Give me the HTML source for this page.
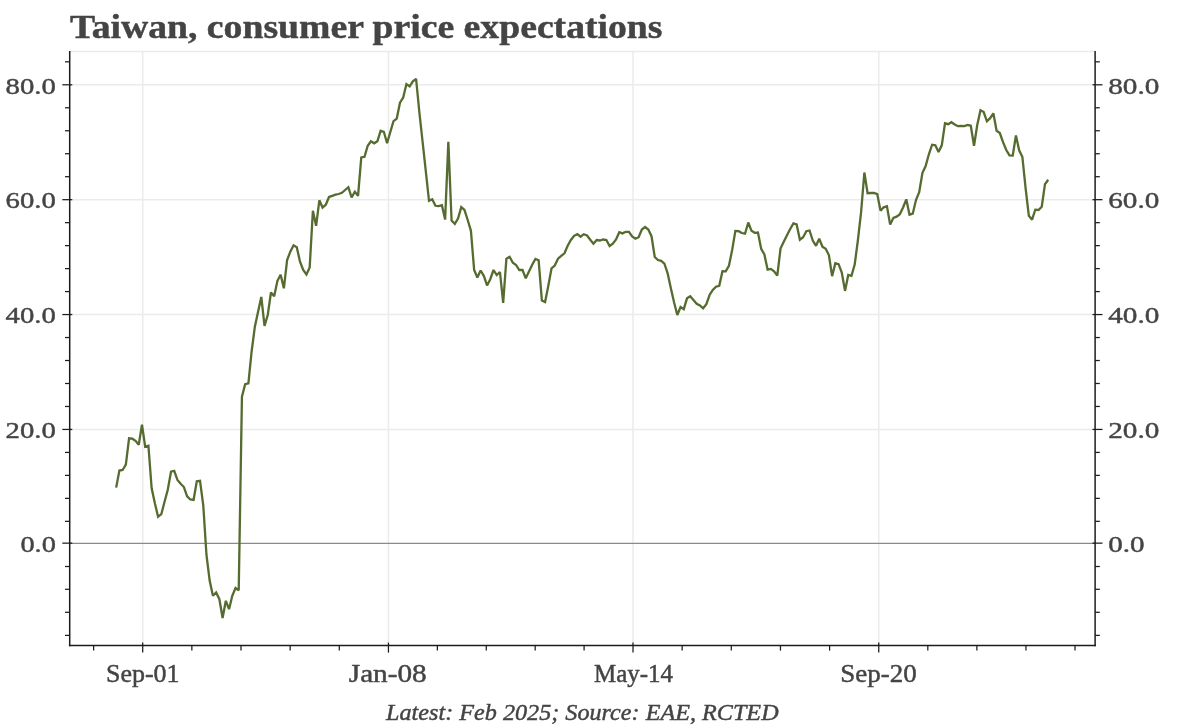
<!DOCTYPE html>
<html lang="en"><head><meta charset="utf-8"><title>Taiwan, consumer price expectations</title>
<style>
html,body{margin:0;padding:0;background:#fff;}
body{width:1200px;height:728px;overflow:hidden;}
svg{display:block;}
text{font-family:"Liberation Serif",serif;fill:#444;stroke:#444;stroke-width:0.45px;stroke-linejoin:round;}
.t{font-weight:bold;font-size:34px;}
.yl{font-size:24px;}
.xl{font-size:25px;}
.ft{font-size:23.5px;font-style:italic;}
</style></head><body>
<svg width="1200" height="728" viewBox="0 0 1200 728">
<rect width="1200" height="728" fill="#fff"/>

<g stroke="#ebebeb" stroke-width="1.5" fill="none">
<line x1="69.7" y1="84.8" x2="1095.1" y2="84.8"/>
<line x1="69.7" y1="199.68" x2="1095.1" y2="199.68"/>
<line x1="69.7" y1="314.56" x2="1095.1" y2="314.56"/>
<line x1="69.7" y1="429.44" x2="1095.1" y2="429.44"/>
<line x1="142.7" y1="51.4" x2="142.7" y2="645.4"/>
<line x1="388.45" y1="51.4" x2="388.45" y2="645.4"/>
<line x1="633.0" y1="51.4" x2="633.0" y2="645.4"/>
<line x1="878.75" y1="51.4" x2="878.75" y2="645.4"/>
<line x1="69.7" y1="51.4" x2="1095.1" y2="51.4"/>
</g>
<line x1="69.7" y1="543.3" x2="1095.1" y2="543.3" stroke="#8a8a8a" stroke-width="1.2"/>
<polyline points="116.17,487.60 119.39,470.50 122.62,470.00 125.84,464.70 129.07,438.30 132.30,438.70 135.52,440.80 138.75,444.70 141.97,424.60 145.19,446.70 148.42,445.70 151.65,488.30 154.87,503.30 158.09,516.80 161.32,514.20 164.55,501.70 167.77,489.70 171.00,471.70 174.22,470.90 177.44,480.00 180.67,483.70 183.90,487.00 187.12,496.30 190.34,499.50 193.57,500.00 196.80,481.20 200.02,480.80 203.25,505.00 206.47,555.00 209.69,580.80 212.92,595.80 216.15,592.50 219.37,599.20 222.59,618.00 225.82,600.80 229.05,609.20 232.27,595.80 235.50,588.00 238.72,590.30 241.94,396.70 245.17,384.20 248.39,383.30 251.62,351.50 254.85,326.70 258.07,311.70 261.30,297.00 264.52,325.80 267.75,315.00 270.97,292.50 274.19,296.30 277.42,280.80 280.64,274.70 283.87,288.30 287.10,260.00 290.32,251.70 293.55,245.30 296.77,247.20 300.00,261.70 303.22,270.00 306.44,274.50 309.67,267.50 312.89,210.80 316.12,225.80 319.35,200.30 322.57,207.50 325.80,204.70 329.02,197.00 332.25,195.80 335.47,194.70 338.69,194.00 341.92,192.80 345.14,190.00 348.37,187.20 351.60,197.50 354.82,191.70 358.05,195.80 361.27,157.50 364.50,156.80 367.72,145.80 370.94,141.30 374.17,143.30 377.40,141.30 380.62,130.80 383.85,131.80 387.07,143.20 390.30,132.00 393.52,121.20 396.75,118.60 399.97,102.70 403.20,97.50 406.42,84.10 409.65,86.40 412.87,81.30 416.10,78.80 419.32,112.00 422.55,141.40 425.77,170.80 429.00,200.80 432.22,199.20 435.45,205.80 438.67,206.20 441.90,205.30 445.12,219.60 448.35,141.90 451.57,220.60 454.80,223.80 458.02,218.50 461.25,207.10 464.47,210.00 467.70,220.00 470.92,230.80 474.15,270.00 477.37,277.50 480.60,270.50 483.82,275.80 487.05,285.50 490.27,279.20 493.50,270.00 496.72,275.00 499.95,272.00 503.17,302.80 506.40,258.70 509.62,256.80 512.85,262.80 516.07,265.00 519.29,270.00 522.52,270.00 525.75,278.30 528.97,271.50 532.20,264.80 535.42,258.90 538.64,260.30 541.87,300.50 545.10,302.00 548.32,285.80 551.54,268.30 554.77,265.50 558.00,258.70 561.22,255.80 564.45,253.30 567.67,245.80 570.89,240.00 574.12,235.80 577.35,234.20 580.57,236.70 583.79,234.20 587.02,235.50 590.25,239.70 593.47,243.80 596.70,240.00 599.92,240.50 603.14,239.50 606.37,240.00 609.60,246.00 612.82,243.70 616.04,239.50 619.27,232.20 622.50,233.40 625.72,231.80 628.94,231.90 632.17,236.40 635.39,238.70 638.62,237.20 641.85,229.50 645.07,227.00 648.29,229.50 651.52,236.20 654.75,257.00 657.97,260.00 661.19,260.80 664.42,263.70 667.64,273.30 670.87,288.30 674.10,302.50 677.32,315.00 680.54,307.00 683.77,309.20 687.00,298.30 690.22,296.30 693.44,300.00 696.67,303.80 699.89,305.50 703.12,308.30 706.35,304.20 709.57,295.00 712.79,290.00 716.02,286.70 719.25,285.80 722.47,271.20 725.69,271.30 728.92,265.80 732.14,250.00 735.37,230.90 738.60,231.20 741.82,233.00 745.04,233.70 748.27,222.50 751.50,230.80 754.72,232.80 757.94,232.50 761.17,248.80 764.39,254.50 767.62,269.70 770.85,268.90 774.07,271.30 777.29,275.60 780.52,248.60 783.75,241.70 786.97,235.20 790.19,229.00 793.42,223.40 796.64,224.50 799.87,239.80 803.10,237.20 806.32,231.20 809.54,230.50 812.77,240.50 816.00,245.80 819.22,238.70 822.44,246.70 825.67,248.80 828.89,255.00 832.12,276.20 835.35,263.30 838.57,264.20 841.79,272.50 845.02,290.90 848.25,275.00 851.47,275.80 854.69,264.60 857.92,240.00 861.14,211.70 864.37,172.50 867.60,193.20 870.82,193.00 874.04,193.00 877.27,194.20 880.50,210.60 883.72,207.30 886.94,206.20 890.17,224.60 893.39,217.80 896.62,216.60 899.85,214.30 903.07,207.50 906.29,199.30 909.52,214.70 912.75,213.70 915.97,200.00 919.19,192.30 922.42,173.00 925.64,166.00 928.87,154.30 932.10,144.70 935.32,145.30 938.54,152.00 941.77,145.30 945.00,123.30 948.22,124.20 951.44,122.20 954.67,124.50 957.89,126.20 961.12,126.00 964.35,126.20 967.57,125.00 970.79,125.80 974.02,145.70 977.25,125.00 980.47,110.30 983.69,112.00 986.92,121.30 990.14,118.20 993.37,113.30 996.60,130.80 999.82,133.00 1003.04,142.20 1006.27,150.00 1009.50,155.30 1012.72,155.60 1015.94,135.50 1019.17,150.30 1022.39,157.00 1025.62,188.30 1028.85,215.80 1032.07,219.70 1035.30,209.70 1038.52,210.00 1041.75,206.70 1044.97,184.20 1048.19,179.80" fill="none" stroke="#556B2F" stroke-width="2.3" stroke-linejoin="miter" stroke-miterlimit="2" stroke-linecap="butt"/>
<g stroke="#1c1c1c" stroke-width="1.5" fill="none">
<line x1="69.7" y1="50.9" x2="69.7" y2="646.15"/>
<line x1="1095.1" y1="50.9" x2="1095.1" y2="646.15"/>
<line x1="68.95" y1="645.4" x2="1095.85" y2="645.4"/>
</g>
<g stroke="#1c1c1c" stroke-width="1.25" fill="none">
<line x1="62.300000000000004" y1="84.8" x2="72.3" y2="84.8"/>
<line x1="1092.5" y1="84.8" x2="1102.5" y2="84.8"/>
<line x1="62.300000000000004" y1="199.68" x2="72.3" y2="199.68"/>
<line x1="1092.5" y1="199.68" x2="1102.5" y2="199.68"/>
<line x1="62.300000000000004" y1="314.56" x2="72.3" y2="314.56"/>
<line x1="1092.5" y1="314.56" x2="1102.5" y2="314.56"/>
<line x1="62.300000000000004" y1="429.44" x2="72.3" y2="429.44"/>
<line x1="1092.5" y1="429.44" x2="1102.5" y2="429.44"/>
<line x1="62.300000000000004" y1="543.15" x2="72.3" y2="543.15"/>
<line x1="1092.5" y1="543.15" x2="1102.5" y2="543.15"/>
<line x1="65.0" y1="61.824" x2="69.7" y2="61.824"/>
<line x1="1095.1" y1="61.824" x2="1099.8" y2="61.824"/>
<line x1="65.0" y1="107.776" x2="69.7" y2="107.776"/>
<line x1="1095.1" y1="107.776" x2="1099.8" y2="107.776"/>
<line x1="65.0" y1="130.752" x2="69.7" y2="130.752"/>
<line x1="1095.1" y1="130.752" x2="1099.8" y2="130.752"/>
<line x1="65.0" y1="153.728" x2="69.7" y2="153.728"/>
<line x1="1095.1" y1="153.728" x2="1099.8" y2="153.728"/>
<line x1="65.0" y1="176.704" x2="69.7" y2="176.704"/>
<line x1="1095.1" y1="176.704" x2="1099.8" y2="176.704"/>
<line x1="65.0" y1="222.656" x2="69.7" y2="222.656"/>
<line x1="1095.1" y1="222.656" x2="1099.8" y2="222.656"/>
<line x1="65.0" y1="245.632" x2="69.7" y2="245.632"/>
<line x1="1095.1" y1="245.632" x2="1099.8" y2="245.632"/>
<line x1="65.0" y1="268.608" x2="69.7" y2="268.608"/>
<line x1="1095.1" y1="268.608" x2="1099.8" y2="268.608"/>
<line x1="65.0" y1="291.584" x2="69.7" y2="291.584"/>
<line x1="1095.1" y1="291.584" x2="1099.8" y2="291.584"/>
<line x1="65.0" y1="337.536" x2="69.7" y2="337.536"/>
<line x1="1095.1" y1="337.536" x2="1099.8" y2="337.536"/>
<line x1="65.0" y1="360.512" x2="69.7" y2="360.512"/>
<line x1="1095.1" y1="360.512" x2="1099.8" y2="360.512"/>
<line x1="65.0" y1="383.488" x2="69.7" y2="383.488"/>
<line x1="1095.1" y1="383.488" x2="1099.8" y2="383.488"/>
<line x1="65.0" y1="406.464" x2="69.7" y2="406.464"/>
<line x1="1095.1" y1="406.464" x2="1099.8" y2="406.464"/>
<line x1="65.0" y1="452.416" x2="69.7" y2="452.416"/>
<line x1="1095.1" y1="452.416" x2="1099.8" y2="452.416"/>
<line x1="65.0" y1="475.392" x2="69.7" y2="475.392"/>
<line x1="1095.1" y1="475.392" x2="1099.8" y2="475.392"/>
<line x1="65.0" y1="498.368" x2="69.7" y2="498.368"/>
<line x1="1095.1" y1="498.368" x2="1099.8" y2="498.368"/>
<line x1="65.0" y1="521.3439999999999" x2="69.7" y2="521.3439999999999"/>
<line x1="1095.1" y1="521.3439999999999" x2="1099.8" y2="521.3439999999999"/>
<line x1="65.0" y1="566.5" x2="69.7" y2="566.5"/>
<line x1="1095.1" y1="566.5" x2="1099.8" y2="566.5"/>
<line x1="65.0" y1="589.3" x2="69.7" y2="589.3"/>
<line x1="1095.1" y1="589.3" x2="1099.8" y2="589.3"/>
<line x1="65.0" y1="612.3" x2="69.7" y2="612.3"/>
<line x1="1095.1" y1="612.3" x2="1099.8" y2="612.3"/>
<line x1="65.0" y1="635.4" x2="69.7" y2="635.4"/>
<line x1="1095.1" y1="635.4" x2="1099.8" y2="635.4"/>
<line x1="142.7" y1="642.6" x2="142.7" y2="652.6"/>
<line x1="388.45" y1="642.6" x2="388.45" y2="652.6"/>
<line x1="633.0" y1="642.6" x2="633.0" y2="652.6"/>
<line x1="878.75" y1="642.6" x2="878.75" y2="652.6"/>
<line x1="93.63" y1="645.4" x2="93.63" y2="650.6"/>
<line x1="191.85" y1="645.4" x2="191.85" y2="650.6"/>
<line x1="241.00" y1="645.4" x2="241.00" y2="650.6"/>
<line x1="290.15" y1="645.4" x2="290.15" y2="650.6"/>
<line x1="339.30" y1="645.4" x2="339.30" y2="650.6"/>
<line x1="437.36" y1="645.4" x2="437.36" y2="650.6"/>
<line x1="486.27" y1="645.4" x2="486.27" y2="650.6"/>
<line x1="535.18" y1="645.4" x2="535.18" y2="650.6"/>
<line x1="584.09" y1="645.4" x2="584.09" y2="650.6"/>
<line x1="682.15" y1="645.4" x2="682.15" y2="650.6"/>
<line x1="731.30" y1="645.4" x2="731.30" y2="650.6"/>
<line x1="780.45" y1="645.4" x2="780.45" y2="650.6"/>
<line x1="829.60" y1="645.4" x2="829.60" y2="650.6"/>
<line x1="927.82" y1="645.4" x2="927.82" y2="650.6"/>
<line x1="976.89" y1="645.4" x2="976.89" y2="650.6"/>
<line x1="1025.96" y1="645.4" x2="1025.96" y2="650.6"/>
<line x1="1075.03" y1="645.4" x2="1075.03" y2="650.6"/>
</g>
<text class="t" x="70" y="38" textLength="592.5" lengthAdjust="spacingAndGlyphs">Taiwan, consumer price expectations</text>
<text class="yl" x="5.60" y="93.5" textLength="50.2" lengthAdjust="spacingAndGlyphs">80.0</text>
<text class="yl" x="1108.2" y="93.5" textLength="51.1" lengthAdjust="spacingAndGlyphs">80.0</text>
<text class="yl" x="5.60" y="208.4" textLength="50.2" lengthAdjust="spacingAndGlyphs">60.0</text>
<text class="yl" x="1108.2" y="208.4" textLength="51.1" lengthAdjust="spacingAndGlyphs">60.0</text>
<text class="yl" x="5.60" y="323.2" textLength="50.2" lengthAdjust="spacingAndGlyphs">40.0</text>
<text class="yl" x="1108.2" y="323.2" textLength="51.1" lengthAdjust="spacingAndGlyphs">40.0</text>
<text class="yl" x="5.60" y="437.8" textLength="50.2" lengthAdjust="spacingAndGlyphs">20.0</text>
<text class="yl" x="1108.2" y="437.8" textLength="51.1" lengthAdjust="spacingAndGlyphs">20.0</text>
<text class="yl" x="20.40" y="551.6" textLength="35.4" lengthAdjust="spacingAndGlyphs">0.0</text>
<text class="yl" x="1108.2" y="551.6" textLength="36.3" lengthAdjust="spacingAndGlyphs">0.0</text>
<text class="xl" x="106" y="682.1" textLength="73.5" lengthAdjust="spacingAndGlyphs">Sep-01</text>
<text class="xl" x="348.75" y="682.1" textLength="78" lengthAdjust="spacingAndGlyphs">Jan-08</text>
<text class="xl" x="594" y="682.1" textLength="79" lengthAdjust="spacingAndGlyphs">May-14</text>
<text class="xl" x="840.3" y="682.1" textLength="76.4" lengthAdjust="spacingAndGlyphs">Sep-20</text>
<text class="ft" x="386.1" y="719.6" textLength="392.5" lengthAdjust="spacingAndGlyphs">Latest: Feb 2025; Source: EAE, RCTED</text>
</svg>
</body></html>
